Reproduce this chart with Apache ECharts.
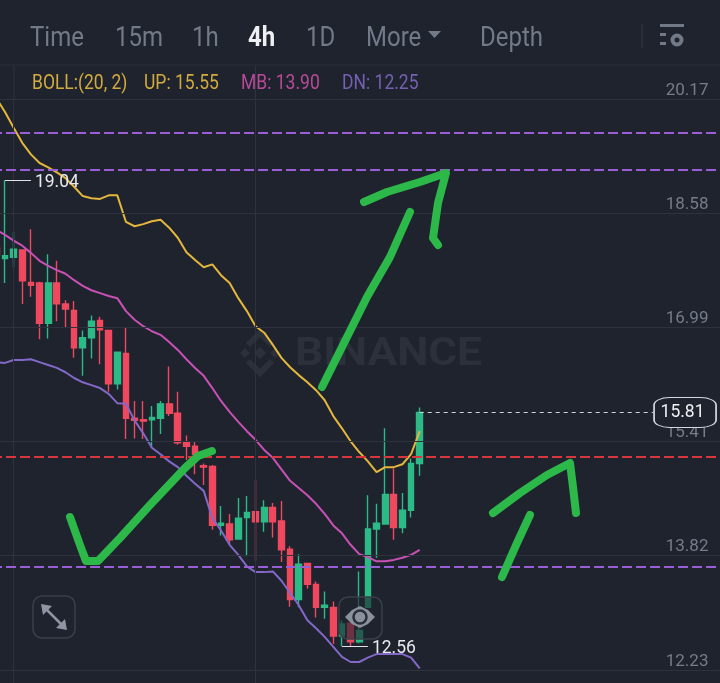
<!DOCTYPE html>
<html><head><meta charset="utf-8">
<style>html,body{margin:0;padding:0;background:#1e232e;overflow:hidden}#c{position:absolute;left:-8px;top:0;width:736px;height:683px}</style>
<script src="https://cdn.jsdelivr.net/npm/echarts@6/dist/echarts.min.js"></script>
</head><body><div id="c"></div>
<script>
// [open, close, low, high]; leading index is an off-screen bar
const candles = [
 [18.10,18.0,17.9,18.2],
 [17.95,17.99,17.61,19.04],[17.97,18.08,17.83,18.32],[18.07,17.64,17.32,18.08],[17.62,17.58,17.42,18.36],
 [17.61,17.05,16.83,17.63],[17.05,17.61,16.84,18.01],[17.61,17.32,17.08,17.92],[17.32,17.25,17.00,17.37],
 [17.23,16.71,16.57,17.36],[16.71,16.85,16.32,16.95],[16.85,17.08,16.56,17.16],[17.09,16.96,16.48,17.14],
 [16.95,16.21,16.10,16.96],[16.21,16.65,16.13,16.66],[16.63,15.73,15.44,17.00],[15.73,15.70,15.45,15.97],
 [15.71,15.69,15.44,15.97],[15.71,15.74,15.32,15.90],[15.73,15.93,15.51,15.97],[15.93,15.80,15.76,16.45],
 [15.80,15.39,15.36,16.10],[15.40,15.34,15.15,15.49],[15.34,15.23,14.95,15.40],[15.07,15.05,14.80,15.10],
 [15.06,14.24,14.18,15.08],[14.24,14.27,14.10,14.51],[14.26,14.04,13.97,14.40],[14.05,14.34,14.04,14.62],
 [14.35,14.42,13.81,14.65],[14.43,14.29,13.75,14.87],[14.29,14.49,14.15,14.59],[14.49,14.29,14.07,14.55],
 [14.30,13.90,13.73,14.58],[13.91,13.21,13.11,13.95],[13.21,13.70,13.10,13.84],[13.71,13.42,13.36,13.72],
 [13.42,13.10,12.96,13.46],[13.10,13.13,12.94,13.32],[13.10,12.70,12.59,13.18],[12.70,12.87,12.56,12.92],
 [12.88,12.62,12.55,12.90],[12.62,12.78,12.60,13.60],[13.10,14.19,13.10,14.66],[14.19,14.27,13.79,14.54],
 [14.26,14.67,14.26,15.59],[14.67,14.21,14.04,15.03],[14.21,14.45,14.13,14.69],[14.45,15.10,14.35,15.17],
 [15.10,15.81,14.93,15.88]
];
const bollUp = [20.18,19.99,19.77,19.56,19.40,19.28,19.22,19.15,19.07,18.95,18.82,18.79,18.78,18.83,18.83,18.46,18.40,18.43,18.47,18.49,18.38,18.24,18.04,17.93,17.83,17.87,17.72,17.61,17.40,17.22,17.01,16.92,16.75,16.57,16.44,16.33,16.23,16.12,15.98,15.76,15.59,15.41,15.26,15.13,14.98,15.05,15.05,15.09,15.23,15.55];
const bollMb = [18.35,18.28,18.20,18.13,18.03,17.92,17.85,17.79,17.74,17.65,17.57,17.51,17.47,17.43,17.40,17.22,17.10,17.01,16.94,16.89,16.79,16.68,16.55,16.43,16.32,16.15,15.97,15.82,15.68,15.55,15.43,15.29,15.18,15.02,14.86,14.76,14.66,14.54,14.40,14.24,14.13,13.97,13.84,13.80,13.74,13.74,13.76,13.79,13.83,13.90];
const bollDn = [16.51,16.50,16.54,16.54,16.55,16.51,16.47,16.43,16.37,16.29,16.23,16.19,16.15,16.07,15.94,15.93,15.70,15.52,15.32,15.23,15.13,15.05,14.93,14.82,14.72,14.34,14.17,13.97,13.83,13.67,13.59,13.59,13.60,13.47,13.30,13.13,12.92,12.81,12.69,12.55,12.41,12.34,12.34,12.40,12.45,12.45,12.45,12.45,12.40,12.25];
const priceTicks = [20.17,18.58,16.99,15.41,13.82,12.23];
const purpleLevels = [19.70,19.18,13.66];
const redLevel = 15.19;
const lastPrice = 15.81, highPrice = 19.04, lowPrice = 12.56;
const tabs = ['Time','15m','1h','4h','1D','More','Depth'];

const CATS = 85;
const categories = Array.from({length:CATS},(_,i)=>String(i));
const font = 'Roboto';
const G='#2CBB86',R='#F0485F';
const ink='#2db84a';
const stroke=(pts,w)=>({type:'polyline',z:100,shape:{points:pts},style:{stroke:ink,lineWidth:w||8,fill:null,lineCap:'round',lineJoin:'round'}});
const tabX=[30,115,192,248,306,366,480];
const txt=(t,x,y,size,color,extra)=>({type:'text',z:100,x,y,scaleY:1.12,style:Object.assign({text:t,fill:color,font:size+'px '+font,textVerticalAlign:'middle',verticalAlign:'middle'},extra||{})});
const logoCell=(x,y,s)=>({type:'rect',z:0,x,y,rotation:Math.PI/4,originX:0,originY:0,shape:{x:-s/2,y:-s/2,width:s,height:s},style:{fill:'#2b303b'}});

const graphicItems=[
 {type:'line',z:0,shape:{x1:0,y1:65,x2:720,y2:65},style:{stroke:'#2a2f3a',lineWidth:1}},
 {type:'line',z:0,shape:{x1:14,y1:65,x2:14,y2:99},style:{stroke:'#2d323d',lineWidth:1}},
 {type:'line',z:0,shape:{x1:255.5,y1:65,x2:255.5,y2:99},style:{stroke:'#2d323d',lineWidth:1}},
 {type:'line',z:0,shape:{x1:642,y1:24,x2:642,y2:48},style:{stroke:'#343a45',lineWidth:1}},
 ...tabs.map((t,i)=>txt(t,tabX[i],39,24,t==='4h'?'#eef0f3':'#737a87',t==='4h'?{font:'bold 24px '+font}:{})),
 {type:'polygon',z:100,shape:{points:[[428,31],[441,31],[434.5,38]]},style:{fill:'#737a87'}},
 {type:'rect',z:100,shape:{x:660,y:24,width:24,height:3},style:{fill:'#737a87'}},
 {type:'rect',z:100,shape:{x:660,y:33,width:6,height:3},style:{fill:'#737a87'}},
 {type:'rect',z:100,shape:{x:660,y:42,width:6,height:3},style:{fill:'#737a87'}},
 {type:'circle',z:100,shape:{cx:677,cy:40,r:4.5},style:{fill:'none',stroke:'#737a87',lineWidth:4}},
 txt('BOLL:(20, 2)',32,84.5,17.5,'#d2ab3e'),
 txt('UP: '+bollUp[bollUp.length-1].toFixed(2),144,84.5,17.5,'#d2ab3e'),
 txt('MB: '+bollMb[bollMb.length-1].toFixed(2),241,84.5,17.5,'#b94a9a'),
 txt('DN: '+bollDn[bollDn.length-1].toFixed(2),342,84.5,17.5,'#7460b0'),
 // watermark
 {type:'text',z:0,x:295,y:355,scaleX:1.16,style:{text:'BINANCE',fill:'#2b303b',font:'bold 38px '+font,textVerticalAlign:'middle',verticalAlign:'middle'}},
 logoCell(260,353,9),logoCell(245,353,7),logoCell(275,353,7),
 {type:'polyline',z:0,shape:{points:[[248,345],[260,333],[272,345]]},style:{stroke:'#2b303b',lineWidth:6,fill:null}},
 {type:'polyline',z:0,shape:{points:[[248,361],[260,373],[272,361]]},style:{stroke:'#2b303b',lineWidth:6,fill:null}},
 // expand button
 {type:'rect',z:100,shape:{x:33,y:596,width:42,height:42,r:9},style:{fill:'rgba(30,35,46,.6)',stroke:'#3a3f4a',lineWidth:1.5}},
 {type:'line',z:101,shape:{x1:46,y1:609,x2:62,y2:625},style:{stroke:'#8f95a3',lineWidth:2.5}},
 {type:'polygon',z:101,shape:{points:[[41,604],[52,606],[43,615]]},style:{fill:'#8f95a3'}},
 {type:'polygon',z:101,shape:{points:[[67,630],[56,628],[65,619]]},style:{fill:'#8f95a3'}},
 // eye button
 {type:'rect',z:100,shape:{x:339,y:597,width:43,height:42,r:9},style:{fill:'rgba(30,35,46,.62)',stroke:'#3a3f4a',lineWidth:1.5}},
 {type:'polygon',z:101,shape:{points:[[345,617],[352,610],[360,606],[368,610],[375,617],[368,624],[360,628],[352,624]]},style:{fill:'#8b919c'}},
 {type:'circle',z:102,shape:{cx:360,cy:617,r:6.5},style:{fill:'#8b919c',stroke:'#2a2f39',lineWidth:2.5}},
 // hand-drawn annotations
 stroke([[70,517],[80,545],[86,561],[98,561],[120,538],[150,505],[185,468],[198,456],[212,451]]),
 stroke([[410,212],[390,257],[367,297],[322,387]]),
 stroke([[364,202],[387,192],[420,182],[446,173],[438,203],[433,238],[438,245]]),
 stroke([[493,513],[520,493],[547,475],[570,463],[573,487],[576,513]]),
 stroke([[530,515],[517,543],[502,577]]),
];
const graphic=graphicItems.map(e=>Object.assign({},e,{x:(e.x||0)+8}));

const padNull=a=>a.concat(Array(CATS-a.length).fill('-'));
const dashStyle=(color)=>({color,type:[10,4],width:2,opacity:1});
const option={
 animation:false,
 backgroundColor:'#1e232e',
 grid:{left:0.04,top:99,width:8.64*CATS,bottom:0,containLabel:false},
 xAxis:{type:'category',data:categories,boundaryGap:true,axisLine:{show:false},axisTick:{show:false},axisLabel:{show:false},splitLine:{show:false}},
 yAxis:{type:'value',position:'right',min:12.048,max:20.17,scale:true,
   axisLine:{show:false},axisTick:{show:false},splitLine:{show:false},
   axisLabel:{show:true,inside:true,customValues:priceTicks,margin:18,verticalAlign:'bottom',padding:0,lineHeight:17,color:'#767c88',fontFamily:font,fontSize:17,formatter:v=>Number(v).toFixed(2)}},
 graphic,
 series:[
  {type:'line',name:'grid',data:[],z:1,silent:true,symbol:'none',markLine:{silent:true,symbol:'none',animation:false,label:{show:false},
    lineStyle:{color:'#2d323d',type:'solid',width:1},
    data:[...priceTicks.map(v=>({yAxis:v})),{xAxis:'2'},{xAxis:'30'}]}},
  {type:'candlestick',name:'K',z:2,barWidth:6.2,data:candles,
    itemStyle:{color:G,color0:R,borderColor:G,borderColor0:R,borderWidth:1.4},
    markLine:{silent:true,symbol:'none',animation:false,z:5,lineStyle:{color:'#dfe2e7',type:'solid',width:1},
      label:{show:true,position:'end',color:'#e8eaee',fontFamily:font,fontSize:17.5,distance:4,offset:[0,2]},
      data:[
       [{coord:['1',highPrice]},{coord:['4',highPrice],label:{formatter:highPrice.toFixed(2)}}],
       [{coord:['40',lowPrice]},{coord:['43',lowPrice],label:{formatter:lowPrice.toFixed(2)}}]
      ]}},
  {type:'line',name:'UP',data:padNull(bollUp),z:3,symbol:'none',lineStyle:{color:'#E3B73C',width:2}},
  {type:'line',name:'MB',data:padNull(bollMb),z:3,symbol:'none',lineStyle:{color:'#C951B5',width:2}},
  {type:'line',name:'DN',data:padNull(bollDn),z:3,symbol:'none',lineStyle:{color:'#8468C8',width:2}},
  {type:'line',name:'levels',data:[],z:4,silent:true,symbol:'none',markLine:{silent:true,symbol:'none',animation:false,label:{show:false},
    data:[...purpleLevels.map(v=>({yAxis:v,lineStyle:dashStyle('#9a5fd6')})),{yAxis:redLevel,lineStyle:dashStyle('#d9363e')}]}},
  {type:'line',name:'last',data:[],z:7,silent:true,symbol:'none',
    markLine:{silent:true,symbol:'none',animation:false,label:{show:false},lineStyle:{color:'#cfd3da',type:[4,4],width:1},
      data:[[{coord:['49',lastPrice]},{coord:['76',lastPrice]}]]},
    markPoint:{silent:true,animation:false,symbol:'roundRect',symbolSize:[62,30],symbolOffset:[-2.5,0],
      itemStyle:{color:'#1e232e',borderColor:'#d5d8de',borderWidth:1.2},
      label:{show:true,color:'#eef0f3',fontFamily:font,fontSize:17.5,offset:[-2.5,0],formatter:lastPrice.toFixed(2)},
      data:[{coord:['80',lastPrice]}]}}
 ]
};
const chart=echarts.init(document.getElementById('c'),null,{renderer:'canvas'});
chart.setOption(option);
</script></body></html>
